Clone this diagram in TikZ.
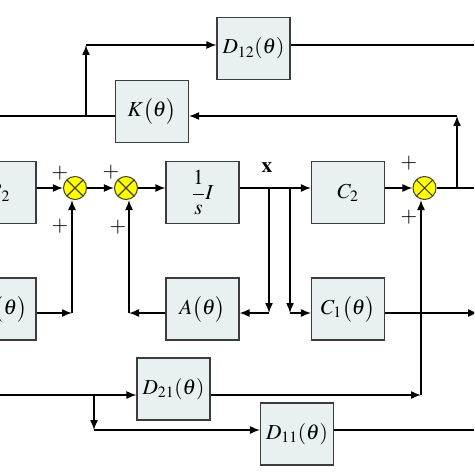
\documentclass[tikz,border=0pt]{standalone}
\usepackage{amsmath}
\usepackage{mathptmx}
\usetikzlibrary{arrows.meta}

\definecolor{blockfill}{RGB}{232,240,242}
\definecolor{blockline}{RGB}{60,60,60}
\definecolor{sumfill}{RGB}{255,255,0}
\definecolor{sumline}{RGB}{70,70,30}

\tikzset{every picture/.style={line width=0.75pt}}
\tikzset{
  block/.style={draw=blockline, fill=blockfill, line width=0.8pt, minimum width=54.75pt, minimum height=46.5pt, inner sep=0pt, font=\fontsize{16}{18}\selectfont},
  summer/.style={circle, draw=sumline, fill=sumfill, line width=0.8pt, minimum size=17.25pt, inner sep=0pt,
    path picture={\draw[sumline, line width=0.8pt] (path picture bounding box.north west) -- (path picture bounding box.south east) (path picture bounding box.north east) -- (path picture bounding box.south west);}},
  sign/.style={inner sep=0pt, font=\fontsize{16}{18}\selectfont\bfseries},
  sig/.style={line width=1.1pt, -{Latex[length=7.5pt, width=6pt]}},
  wire/.style={line width=1.1pt}
}

\begin{document}
\begin{tikzpicture}[x=0.75pt,y=0.75pt,yscale=-1,xscale=1]
\useasboundingbox (0,0) rectangle (474,474);
\clip (0,0) rectangle (474,474);

%Shape: Blocks
\node[block] (D12) at (253.5,48.5) {$D_{12}(\theta)$};
\node[block] (K) at (152,111.5) {$K\bigl(\theta\bigr)$};
\node[block] (B2) at (-0.5,192.5) {$B_2$};
\node[block] (int) at (202.5,192.5) {$\dfrac{1}{s}I$};
\node[block] (C2) at (348,192.5) {$C_{2}$};
\node[block] (B1) at (-0.5,309) {$B_1\bigl(\theta\bigr)$};
\node[block] (A) at (202.5,309) {$A\bigl(\theta\bigr)$};
\node[block] (C1) at (348,309) {$C_1\bigl(\theta\bigr)$};
\node[block] (D21) at (173.5,389) {$D_{21}(\theta)$};
\node[block] (D11) at (297,434) {$D_{11}(\theta)$};

%Shape: Summing junctions
\node[summer] (s1) at (75,188) {};
\node[summer] (s2) at (126,188) {};
\node[summer] (s3) at (424.5,188) {};

%Coordinates for corners and branch points
\coordinate (xa) at (269,188);
\coordinate (xb) at (290,188);
\coordinate (xa2) at (269,313);
\coordinate (xb2) at (290,313);
\coordinate (b1c) at (72,313);
\coordinate (ac) at (129,313);
\coordinate (d21c) at (421,395);
\coordinate (win) at (0,395);
\coordinate (wb) at (94,395);
\coordinate (wb2) at (94,430);
\coordinate (yb) at (457,188);
\coordinate (yb2) at (457,116);
\coordinate (uin) at (0,116);
\coordinate (ub) at (86,116);
\coordinate (ub2) at (86,45);
\coordinate (zout) at (474,45);
\coordinate (yout) at (474,188);
\coordinate (z1out) at (478,313);
\coordinate (z2out) at (474,430);

%Straight Lines: main path
\draw[sig] (B2.east |- s1) -- (s1);
\draw[sig] (s1) -- (s2);
\draw[sig] (s2) -- (int.west |- s2);
\draw[sig] (int.east |- s2) -- (C2.west |- s2);
\draw[sig] (C2.east |- s3) -- (s3);
\draw[wire] (s3) -- (yout);

%Straight Lines: state branches
\draw[sig] (xa) -- (xa2);
\draw[sig] (xa2) -- (A.east |- xa2);
\draw[sig] (xb) -- (xb2);
\draw[sig] (xb2) -- (C1.west |- xb2);
\draw[sig] (A.west |- ac) -- (ac);
\draw[sig] (ac) -- (ac |- s2.south);
\draw[sig] (B1.east |- b1c) -- (b1c);
\draw[sig] (b1c) -- (b1c |- s1.south);
\draw[sig] (C1.east |- xb2) -- (z1out);

%Straight Lines: disturbance path
\draw[sig] (win) -- (D21.west |- win);
\draw[sig] (D21.east |- d21c) -- (d21c);
\draw[sig] (d21c) -- (d21c |- s3.south);
\draw[sig] (wb) -- (wb2);
\draw[sig] (wb2) -- (D11.west |- wb2);
\draw[wire] (D11.east |- wb2) -- (z2out);

%Straight Lines: feedback
\draw[sig] (yb) -- (yb2);
\draw[sig] (yb2) -- (K.east |- yb2);
\draw[wire] (K.west |- yb2) -- (uin);
\draw[sig] (ub) -- (ub2);
\draw[sig] (ub2) -- (D12.west |- ub2);
\draw[wire] (D12.east |- ub2) -- (zout);

% Text Node
\node[sign] (p1) at (60,173) {$\boldsymbol{+}$};
\node[sign] (p2) at (60,226) {$\boldsymbol{+}$};
\node[sign] (p3) at (111,172) {$\boldsymbol{+}$};
\node[sign] (p4) at (118,227) {$\boldsymbol{+}$};
\node[sign] (p5) at (409,163) {$\boldsymbol{+}$};
\node[sign] (p6) at (409,217) {$\boldsymbol{+}$};
% Text Node
\node[sign] (xlab) at (267,168) {$\mathbf{x}$};

\end{tikzpicture}
\end{document}
